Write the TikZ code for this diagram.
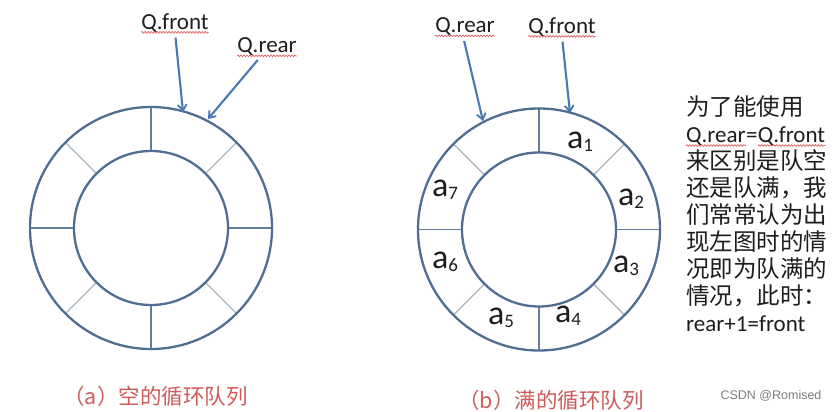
\documentclass[tikz,border=0pt]{standalone}
\usepackage{fontspec}
\setmainfont{Carlito}
\newfontfamily\cjk{Noto Sans CJK SC}
\newfontfamily\csdnf{Liberation Sans}
\usetikzlibrary{arrows.meta,decorations.pathmorphing,calc}
\definecolor{ringc}{RGB}{80,110,145}
\definecolor{divdark}{RGB}{100,125,152}
\definecolor{divlight}{RGB}{172,182,192}
\definecolor{arrowc}{RGB}{74,120,178}
\definecolor{txtc}{RGB}{30,30,30}
\definecolor{squigc}{RGB}{225,95,95}
\definecolor{capc}{RGB}{205,92,92}
\definecolor{csdnc}{RGB}{125,125,125}
\newcommand\sbd[1]{\raisebox{-3pt}{\fontsize{19}{19}\selectfont #1}}
\begin{document}
\begin{tikzpicture}[x=1pt,y=-1pt,
  ring/.style={draw=ringc,line width=2.3pt},
  divd/.style={draw=divdark,line width=1.3pt},
  divl/.style={draw=divlight,line width=1.1pt},
  ptr/.style={draw=arrowc,line width=2.1pt,shorten <=5pt,-{Straight Barb[length=6pt,width=9pt,line width=1.8pt]}},
  lbl/.style={inner sep=0pt,text=txtc,font=\fontsize{23}{23}\selectfont},
  squig/.style={draw=squigc,line width=0.7pt,decorate,decoration={snake,segment length=3pt,amplitude=0.8pt}},
  elem/.style={inner sep=0pt,text=txtc,anchor=mid west,font=\fontsize{34}{34}\selectfont},
  note/.style={inner sep=0pt,text=txtc,anchor=base west,font=\cjk\fontsize{23.5}{27}\selectfont},
  notel/.style={inner sep=0pt,text=txtc,anchor=base west,font=\fontsize{23}{27}\selectfont},
  captxt/.style={inner sep=0pt,text=capc,font=\cjk\fontsize{21.5}{21.5}\selectfont},
  csdn/.style={inner sep=0pt,text=csdnc,font=\csdnf\fontsize{12.5}{12.5}\selectfont}
]
\useasboundingbox[fill=white] (0,0) rectangle (833,412);

% ---------- left ring ----------
\coordinate (L) at (151,228);
\foreach \a in {45,135,225,315}
  \draw[divl] ($(L)+(\a:77)$) -- ($(L)+(\a:121)$);
\foreach \a in {0,90,180,270}
  \draw[divd] ($(L)+(\a:77)$) -- ($(L)+(\a:121)$);
\draw[ring] (L) circle[radius=121];
\draw[ring] (L) circle[radius=77];

\node[lbl] (qfL) at (175,23) {Q.front};
\node[lbl] (qrL) at (267,47) {Q.rear};
\draw[squig] ([yshift=-3pt]qfL.base west) -- ([yshift=-3pt]qfL.base east);
\draw[squig] ([yshift=-3pt]qrL.base west) -- ([yshift=-3pt]qrL.base east);
\coordinate (fL) at (183,112);
\coordinate (rL) at (208,119);
\draw[ptr] (qfL.south) -- (fL);
\draw[ptr] ([xshift=-6pt]qrL.south) -- (rL);

% ---------- right ring ----------
\coordinate (R) at (539,229.5);
\foreach \a in {45,135,225,315}
  \draw[divl] ($(R)+(\a:77)$) -- ($(R)+(\a:121)$);
\foreach \a in {0,90,180,270}
  \draw[divd] ($(R)+(\a:77)$) -- ($(R)+(\a:121)$);
\draw[ring] (R) circle[radius=121];
\draw[ring] (R) circle[radius=77];

\node[lbl] (qrR) at (465,27) {Q.rear};
\node[lbl] (qfR) at (562,27) {Q.front};
\draw[squig] ([yshift=-3pt]qrR.base west) -- ([yshift=-3pt]qrR.base east);
\draw[squig] ([yshift=-3pt]qfR.base west) -- ([yshift=-3pt]qfR.base east);
\coordinate (rR) at (483,121);
\coordinate (fR) at (570,113);
\draw[ptr] ([xshift=-2pt]qrR.south) -- (rR);
\draw[ptr] (qfR.south) -- (fR);

\node[elem] (a1) at (567,146) {a\sbd{1}};
\node[elem] (a2) at (618,203) {a\sbd{2}};
\node[elem] (a3) at (613,270) {a\sbd{3}};
\node[elem] (a4) at (555,320) {a\sbd{4}};
\node[elem] (a5) at (488,322) {a\sbd{5}};
\node[elem] (a6) at (432,266) {a\sbd{6}};
\node[elem] (a7) at (432,194) {a\sbd{7}};

% ---------- note ----------
\node[note] (n1) at (686,115.5) {为了能使用};
\node[notel] (n2a) at (686,142.5) {Q.rear};
\node[notel] (n2b) at (n2a.base east) {=};
\node[notel] (n2c) at (n2b.base east) {Q.front};
\draw[squig] ([yshift=-3pt]n2a.base west) -- ([yshift=-3pt]n2a.base east);
\draw[squig] ([yshift=-3pt]n2c.base west) -- ([yshift=-3pt]n2c.base east);
\node[note] (n3) at (686,169.5) {来区别是队空};
\node[note] (n4) at (686,196.5) {还是队满，我};
\node[note] (n5) at (686,223.5) {们常常认为出};
\node[note] (n6) at (686,250.5) {现左图时的情};
\node[note] (n7) at (686,277.5) {况即为队满的};
\node[note] (n8) at (686,304.5) {情况，此时：};
\node[notel] (n9) at (686,331.5) {rear+1=front};

% ---------- captions ----------
\node[captxt] (capA) at (155.5,396) {（a）空的循环队列};
\node[captxt] (capB) at (551,400) {（b）满的循环队列};
\node[csdn] (mark) at (771,396) {CSDN @Romised};
\end{tikzpicture}
\end{document}
